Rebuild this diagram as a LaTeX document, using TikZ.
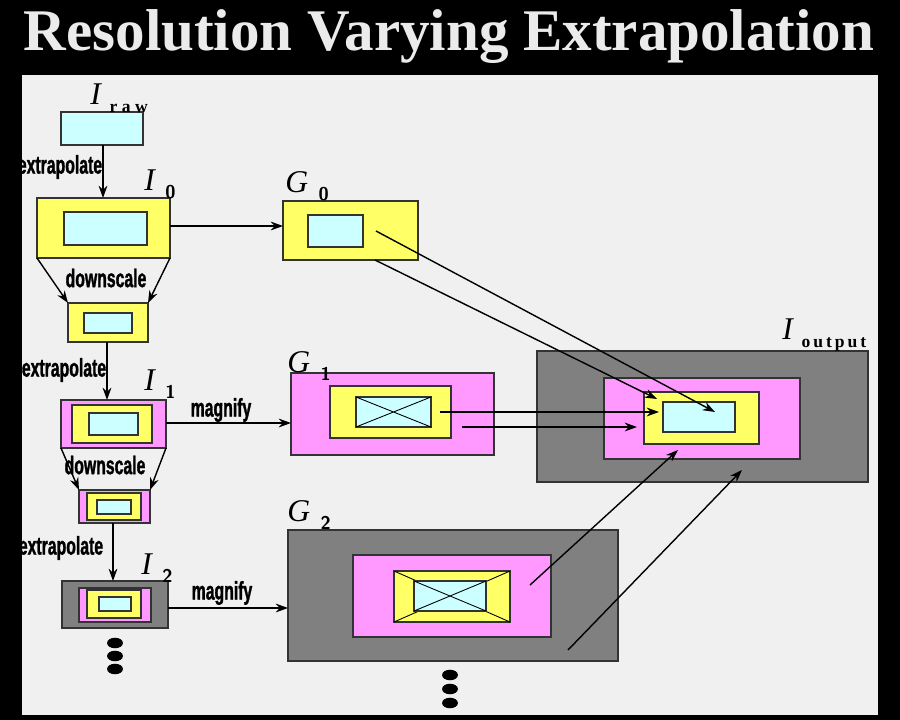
\documentclass[tikz,border=0pt]{standalone}
\usepackage{fontspec}
\setmainfont{Liberation Serif}
\newfontfamily\narrowf[FakeStretch=0.62,FakeBold=1.2]{Liberation Sans Bold}
\usetikzlibrary{arrows.meta}
\definecolor{cy}{HTML}{CCFFFF}
\definecolor{ye}{HTML}{FFFF66}
\definecolor{pk}{HTML}{FF99FF}
\definecolor{gy}{HTML}{808080}
\definecolor{panel}{HTML}{F0F0F0}
\tikzset{
  box/.style={draw=black!80,line width=0.6pt,inner sep=0pt,outer sep=0pt},
  arr/.style={draw,line width=0.8pt,-{Stealth[length=7pt,width=5pt]}},
  lbl/.style={font=\narrowf\fontsize{14.5}{15}\selectfont,inner sep=0pt},
  ilab/.style={inner sep=0pt,anchor=base west},
  dot/.style={fill=black,ellipse,minimum width=9pt,minimum height=6pt,inner sep=0pt},
}
\newcommand\bx[6]{\node[box,fill=#2,minimum width={(#5-#3)*0.02cm},minimum height={(#6-#4)*0.02cm}] (#1) at ({(#3+#5)/2},{(#4+#6)/2}) {};}
\newcommand\sub[1]{\raisebox{-5pt}{\fontsize{10.5}{11}\selectfont\upshape\sffamily\bfseries #1}}
\newcommand\subw[1]{\raisebox{-5pt}{\fontsize{10}{11}\selectfont\upshape\bfseries #1}}
\usetikzlibrary{shapes.geometric}
\begin{document}
\begin{tikzpicture}[x=0.02cm,y=-0.02cm]
\path[fill=black,use as bounding box] (0,0) rectangle (900,720);
\fill[panel] (22,75) rectangle (878,715);
\node[text=white!92!black,font=\bfseries\fontsize{33.6}{38}\selectfont] (title) at (449,37) {Resolution Varying Extrapolation};
% left column
\bx{iraw}{cy}{61}{112}{143}{145}
\node[ilab] (lraw) at (90,104) {\fontsize{18}{18}\selectfont\itshape I\hspace{5pt}\subw{r a w}};
\bx{i0}{ye}{37}{198}{170}{258}
\bx{i0c}{cy}{64}{212}{147}{245}
\node[ilab] (l0) at (144,190) {\fontsize{18}{18}\selectfont\itshape I\hspace{6pt}\sub{0}};
\bx{d0}{ye}{68}{303}{148}{342}
\bx{d0c}{cy}{84}{313}{132}{333}
\bx{i1}{pk}{61}{400}{166}{448}
\bx{i1y}{ye}{72}{405}{152}{443}
\bx{i1c}{cy}{89}{413}{138}{435}
\node[ilab] (l1) at (144,390) {\fontsize{18}{18}\selectfont\itshape I\hspace{6pt}\sub{1}};
\bx{d1}{pk}{79}{490}{150}{523}
\bx{d1y}{ye}{87}{493}{141}{520}
\bx{d1c}{cy}{97}{500}{131}{514}
\bx{i2}{gy}{62}{581}{168}{628}
\bx{i2p}{pk}{79}{588}{151}{622}
\bx{i2y}{ye}{87}{590}{141}{618}
\bx{i2c}{cy}{99}{597}{131}{611}
\node[ilab] (l2) at (141,574) {\fontsize{18}{18}\selectfont\itshape I\hspace{6pt}\sub{2}};
\node[dot] (da1) at (115,643) {};
\node[dot] (da2) at (115,656) {};
\node[dot] (da3) at (115,669) {};
% left arrows
\draw[arr] (iraw.south -| 103,0) -- (i0.north -| 103,0);
\node[lbl] (t1) at (60,167) {extrapolate};
\draw[arr] (i0.south west) -- (d0.north west);
\draw[arr] (i0.south east) -- (d0.north east);
\node[lbl] (t2) at (106,278) {downscale};
\draw[arr] (d0.south -| 107,0) -- (i1.north -| 107,0);
\node[lbl] (t3) at (64,370) {extrapolate};
\draw[arr] (i1.south west) -- (d1.north west);
\draw[arr] (i1.south east) -- (d1.north east);
\node[lbl] (t4) at (105,465) {downscale};
\draw[arr] (d1.south -| 113,0) -- (i2.north -| 113,0);
\node[lbl] (t5) at (61,548) {extrapolate};
% G0
\bx{g0}{ye}{283}{201}{418}{260}
\bx{g0c}{cy}{308}{215}{363}{247}
\node[ilab] (lg0) at (285,192) {\fontsize{18}{18}\selectfont\itshape G\hspace{6pt}\sub{0}};
\draw[arr] (i0.east |- 0,226) -- (g0.west |- 0,226);
% G1
\bx{g1}{pk}{291}{373}{494}{455}
\bx{g1y}{ye}{330}{386}{451}{438}
\bx{g1c}{cy}{356}{397}{431}{427}
\draw[line width=0.5pt] (g1c.north west)--(g1c.south east) (g1c.south west)--(g1c.north east);
\node[ilab] (lg1) at (287,372) {\fontsize{18}{18}\selectfont\itshape G\hspace{6pt}\sub{1}};
\draw[arr] (i1.east |- 0,423) -- (g1.west |- 0,423);
\node[lbl] (m1) at (221,410) {magnify};
% G2
\bx{g2}{gy}{288}{530}{618}{661}
\bx{g2p}{pk}{353}{555}{551}{637}
\bx{g2y}{ye}{394}{571}{510}{622}
\bx{g2c}{cy}{414}{581}{486}{611}
\draw[line width=0.5pt] (g2y.north west)--(g2y.south east) (g2y.south west)--(g2y.north east);
\fill[cy,draw=black!80,line width=0.6pt] (g2c.north west) rectangle (g2c.south east);
\draw[line width=0.5pt] (g2c.north west)--(g2c.south east) (g2c.south west)--(g2c.north east);
\node[ilab] (lg2) at (287,521) {\fontsize{18}{18}\selectfont\itshape G\hspace{6pt}\sub{2}};
\draw[arr] (i2.east |- 0,608) -- (g2.west |- 0,608);
\node[lbl] (m2) at (222,593) {magnify};
\node[dot] (db1) at (450,675) {};
\node[dot] (db2) at (450,689) {};
\node[dot] (db3) at (450,703) {};
% output
\bx{o}{gy}{537}{351}{868}{482}
\bx{op}{pk}{604}{378}{800}{459}
\bx{oy}{ye}{644}{392}{759}{444}
\bx{oc}{cy}{663}{402}{735}{432}
\node[ilab] (lo) at (782,339) {\fontsize{18}{18}\selectfont\itshape I\hspace{5pt}\raisebox{-5pt}{\fontsize{10}{11}\selectfont\upshape\bfseries o\,u\,t\,p\,u\,t}};
\coordinate (e1) at (715,412);
\coordinate (e2) at (657,399);
\coordinate (e3) at (659,412);
\coordinate (e4) at (637,427);
\coordinate (e5) at (678,450);
\coordinate (e6) at (742,470);
\draw[arr] (g0c.center -| 376,0) -- (e1);
\draw[arr] (g0.south -| 375,0) -- (e2);
\draw[arr] (g1c.east |- e3) ++(9,0) -- (e3);
\draw[arr] (g1y.east |- e4) ++(11,0) -- (e4);
\draw[arr] (g2p.south east) ++(-21,-52) -- (e5);
\draw[arr] (g2.south east) ++(-50,-11) -- (e6);
\end{tikzpicture}
\end{document}
